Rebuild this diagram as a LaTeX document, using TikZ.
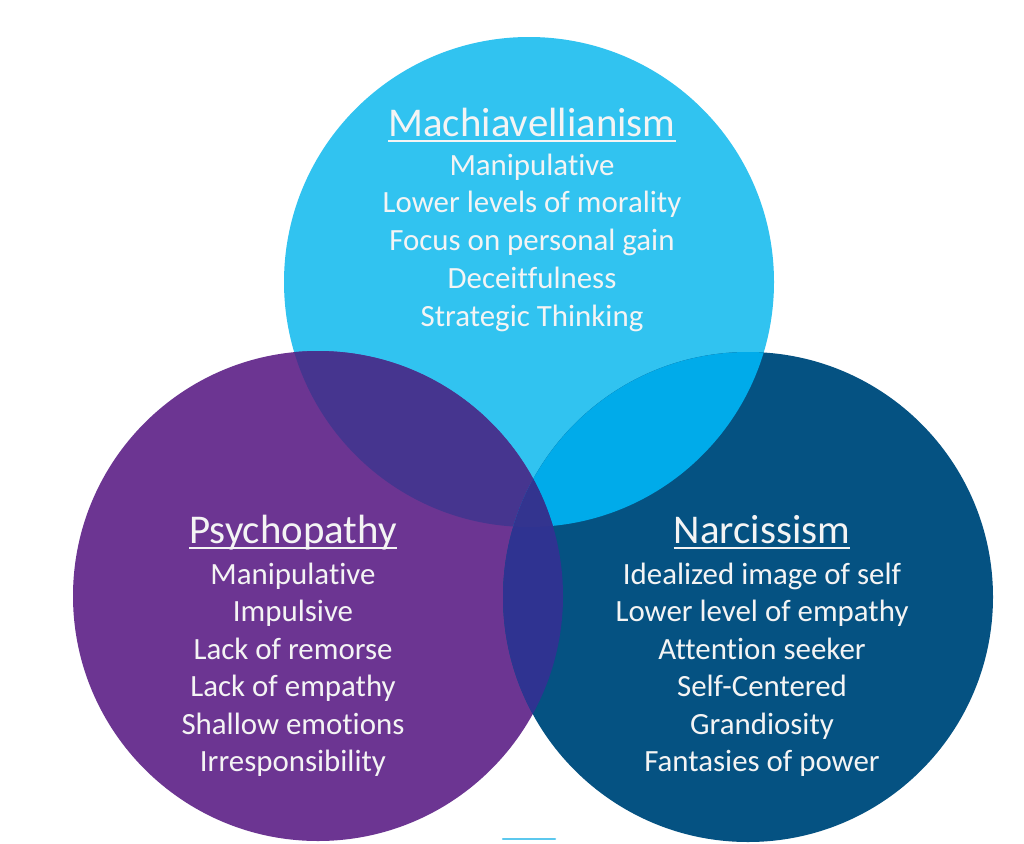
\documentclass[tikz,border=0pt]{standalone}
\usepackage{fontspec}
\setmainfont{Carlito}[Ligatures=NoCommon]
\definecolor{cyanC}{HTML}{31C3F0}
\definecolor{purpC}{HTML}{6C3592}
\definecolor{navyC}{HTML}{055282}
\definecolor{cpC}{HTML}{46358F}
\definecolor{cnC}{HTML}{00ABEA}
\definecolor{pnC}{HTML}{2F3391}
\definecolor{tripC}{HTML}{33348F}
\definecolor{txtC}{HTML}{F4F4F4}
\definecolor{lineC}{HTML}{5CC8EE}
\begin{document}
\begin{tikzpicture}[x=1bp,y=-1bp,
  ttl/.style={font=\fontsize{41}{41}\selectfont, text=txtC, inner sep=0pt, anchor=base},
  itm/.style={font=\fontsize{31}{37}\selectfont, text=txtC, inner sep=0pt, anchor=base},
  uline/.style={draw=txtC, line width=2bp}]
\useasboundingbox (0,0) rectangle (1024,844);
\fill[white] (0,0) rectangle (1024,844);
\coordinate (cM) at (529,282);
\coordinate (cP) at (318,596);
\coordinate (cN) at (748,597);
\def\R{245}
% base circles
\fill[cyanC] (cM) circle (\R);
\fill[purpC] (cP) circle (\R);
\fill[navyC] (cN) circle (\R);
% overlaps
\begin{scope}\clip (cM) circle (\R); \fill[cpC] (cP) circle (\R);\end{scope}
\begin{scope}\clip (cM) circle (\R); \fill[cnC] (cN) circle (\R);\end{scope}
\begin{scope}\clip (cP) circle (\R); \fill[pnC] (cN) circle (\R);\end{scope}
\begin{scope}\clip (cM) circle (\R); \clip (cP) circle (\R); \fill[tripC] (cN) circle (\R);\end{scope}
% faint line at bottom
\draw[lineC, line width=2.5bp, line cap=round] (503,839) -- (555,839);
% Machiavellianism
\node[ttl] (tM) at (532,136) {Machiavellianism};
\draw[uline] ([yshift=-5bp]tM.base west) -- ([yshift=-5bp]tM.base east);
\foreach \t [count=\i] in {Manipulative, Lower levels of morality, Focus on personal gain, Deceitfulness, Strategic Thinking}
  \node[itm] (m\i) at ({532},{175+(\i-1)*37.75}) {\t};
% Psychopathy
\node[ttl] (tP) at (293,543) {Psychopathy};
\draw[uline] ([yshift=-5bp]tP.base west) -- ([yshift=-5bp]tP.base east);
\foreach \t [count=\i] in {Manipulative, Impulsive, Lack of remorse, Lack of empathy, Shallow emotions, Irresponsibility}
  \node[itm] (p\i) at ({293},{584+(\i-1)*37.5}) {\t};
% Narcissism
\node[ttl] (tN) at (762,543) {Narcissism};
\draw[uline] ([yshift=-5bp]tN.base west) -- ([yshift=-5bp]tN.base east);
\foreach \t [count=\i] in {Idealized image of self, Lower level of empathy, Attention seeker, Self-Centered, Grandiosity, Fantasies of power}
  \node[itm] (n\i) at ({762},{584+(\i-1)*37.5}) {\t};
\end{tikzpicture}
\end{document}
